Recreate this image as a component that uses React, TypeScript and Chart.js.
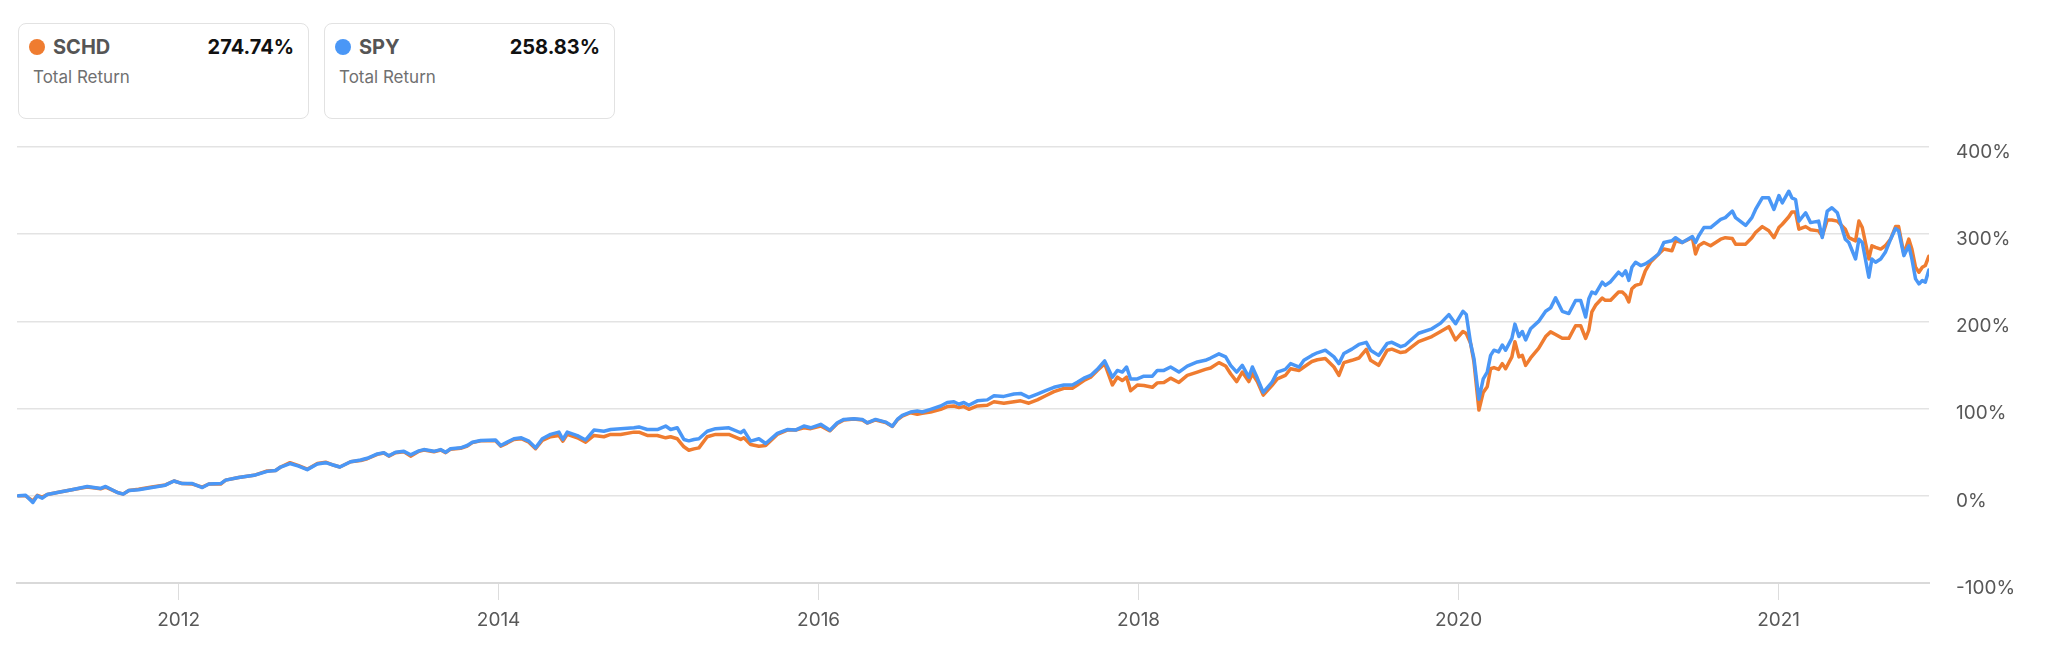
import { useEffect, useRef } from 'react'
import { Chart, registerables } from 'chart.js'

Chart.register(...registerables)

// Total return comparison, SCHD vs SPY. Dates are decimal years, values in %.
const dates = [
  2011.000, 2011.044, 2011.089, 2011.117, 2011.148, 2011.179, 2011.250, 2011.333, 2011.429, 2011.513,
  2011.544, 2011.617, 2011.654, 2011.689, 2011.750, 2011.833, 2011.917, 2011.971, 2012.023, 2012.086,
  2012.148, 2012.189, 2012.263, 2012.294, 2012.375, 2012.471, 2012.554, 2012.606, 2012.638, 2012.696,
  2012.750, 2012.804, 2012.867, 2012.919, 2012.971, 2013.008, 2013.075, 2013.138, 2013.179, 2013.242,
  2013.283, 2013.314, 2013.356, 2013.408, 2013.450, 2013.502, 2013.533, 2013.596, 2013.638, 2013.669,
  2013.700, 2013.763, 2013.804, 2013.836, 2013.888, 2013.981, 2014.013, 2014.054, 2014.096, 2014.142,
  2014.189, 2014.231, 2014.273, 2014.325, 2014.377, 2014.402, 2014.429, 2014.492, 2014.544, 2014.596,
  2014.658, 2014.700, 2014.763, 2014.846, 2014.877, 2014.929, 2014.992, 2015.044, 2015.075, 2015.117,
  2015.158, 2015.189, 2015.221, 2015.252, 2015.304, 2015.356, 2015.439, 2015.513, 2015.533, 2015.575,
  2015.627, 2015.669, 2015.742, 2015.804, 2015.856, 2015.908, 2015.950, 2016.013, 2016.071, 2016.117,
  2016.158, 2016.221, 2016.273, 2016.304, 2016.356, 2016.419, 2016.461, 2016.492, 2016.523, 2016.575,
  2016.617, 2016.648, 2016.700, 2016.763, 2016.804, 2016.846, 2016.877, 2016.908, 2016.939, 2016.992,
  2017.054, 2017.096, 2017.158, 2017.221, 2017.263, 2017.314, 2017.367, 2017.419, 2017.471, 2017.533,
  2017.586, 2017.617, 2017.658, 2017.700, 2017.742, 2017.788, 2017.836, 2017.867, 2017.898, 2017.925,
  2017.950, 2017.992, 2018.033, 2018.086, 2018.117, 2018.158, 2018.200, 2018.252, 2018.304, 2018.367,
  2018.417, 2018.450, 2018.502, 2018.544, 2018.575, 2018.613, 2018.648, 2018.689, 2018.711, 2018.742,
  2018.779, 2018.833, 2018.867, 2018.917, 2018.950, 2019.004, 2019.033, 2019.083, 2019.117, 2019.167,
  2019.221, 2019.252, 2019.283, 2019.333, 2019.377, 2019.423, 2019.450, 2019.500, 2019.554, 2019.583,
  2019.638, 2019.667, 2019.750, 2019.833, 2019.888, 2019.939, 2019.981, 2020.027, 2020.048, 2020.075,
  2020.096, 2020.127, 2020.154, 2020.179, 2020.200, 2020.221, 2020.250, 2020.273, 2020.294, 2020.333,
  2020.352, 2020.377, 2020.398, 2020.419, 2020.450, 2020.500, 2020.544, 2020.575, 2020.606, 2020.648,
  2020.689, 2020.731, 2020.763, 2020.794, 2020.814, 2020.833, 2020.856, 2020.898, 2020.917, 2020.950,
  2021.000, 2021.023, 2021.044, 2021.064, 2021.083, 2021.106, 2021.138, 2021.167, 2021.200, 2021.250,
  2021.283, 2021.333, 2021.356, 2021.398, 2021.417, 2021.461, 2021.481, 2021.500, 2021.533, 2021.575,
  2021.638, 2021.667, 2021.711, 2021.731, 2021.794, 2021.833, 2021.856, 2021.898, 2021.939, 2021.971,
  2022.002, 2022.023, 2022.064, 2022.083, 2022.106, 2022.127, 2022.169, 2022.200, 2022.250, 2022.273,
  2022.304, 2022.333, 2022.367, 2022.417, 2022.439, 2022.481, 2022.502, 2022.523, 2022.564, 2022.583,
  2022.606, 2022.638, 2022.667, 2022.700, 2022.731, 2022.750, 2022.783, 2022.814, 2022.833, 2022.856,
  2022.877, 2022.898, 2022.917, 2022.939,
]

const spyReturn = [
  0, 0.5, -7.6, 0, -2.7, 1.5, 4, 7, 10.7, 8.4,
  10.7, 3.8, 1.9, 6, 7, 9.5, 12.2, 17, 14, 14,
  9.5, 13.5, 14, 18, 21, 23.5, 28, 29, 33, 37,
  34, 30, 36.5, 38, 35, 33, 39, 41, 43, 48,
  49.5, 46, 50, 51, 47, 51.5, 53, 51, 53, 50,
  54, 55, 57.7, 61.5, 63.5, 64, 57.7, 61.5, 65.4, 66.5,
  62.7, 55, 65.4, 70.4, 73, 64.6, 73, 69, 64, 75.4,
  74, 76, 77, 78, 79, 76, 76, 80, 76, 78,
  64.6, 63, 64.6, 65.4, 74, 77, 78, 72.3, 75, 62.7,
  65.4, 60, 71.5, 76, 75.4, 80, 78, 82, 75.2, 83.7,
  87.6, 88.4, 87.6, 83.7, 87.6, 84.5, 79.8, 87.6, 92.2, 96.1,
  97.3, 96.1, 99.2, 103, 107, 107.8, 105, 107, 103.9, 108.9,
  110, 114.7, 114, 116.7, 117.4, 112.8, 116.7, 120.5, 124.4, 127.1,
  127.1, 130.2, 134.9, 138, 145, 154.7, 136, 143.8, 141.9, 147.7,
  134, 134, 137.2, 137.2, 143.8, 143.8, 147.7, 141.9, 148.8, 153.5,
  155.4, 158, 162.8, 159.3, 149.6, 141.9, 149.6, 136, 147.7, 135,
  118.6, 130, 141.9, 145, 151.6, 147.7, 155.4, 161, 164, 167,
  159.3, 151.6, 163.2, 168.2, 173.6, 176, 167, 161, 174.8, 176,
  171, 172.9, 186.4, 191.5, 198, 207.8, 197.3, 211.6, 208, 174.8,
  157.4, 110.8, 134, 141.9, 161, 167, 165, 172.9, 167, 180.6,
  196.9, 182.6, 188.4, 178.7, 191.5, 200, 211.6, 215.5, 227, 211.6,
  209, 224, 224, 205, 226, 233.7, 231.8, 245, 241.3, 245.5,
  256.4, 252.6, 258, 247, 262, 267.8, 264, 266, 270, 277.3,
  290.5, 292.4, 296, 290.5, 292.4, 297.3, 290.5, 298, 307.6, 307.6,
  317, 319, 326.5, 319, 310, 319, 328.4, 341.7, 341.7, 328.4,
  344.3, 336, 349.3, 341.7, 339.8, 315, 324.6, 313.3, 315, 296.2,
  326.5, 330.3, 324.6, 294.3, 290.5, 271.6, 294.3, 290.5, 250.7, 271.6,
  267.8, 271.6, 279.2, 294.3, 306.4, 303.8, 275.4, 286.7, 271.6, 248.8,
  243, 246.8, 245, 258.83,
]

const schdReturn = [
  0, 0, -6, 0.5, -1.5, 1.5, 4, 7, 10, 8,
  10, 4, 2, 6, 7.5, 10, 12.5, 17, 14, 13.5,
  10, 13.5, 13.5, 18, 21, 23.5, 28.5, 29, 33, 38,
  34.5, 30.5, 37, 38.5, 35, 33, 39, 40.5, 42.5, 47.5,
  49, 45.5, 49.5, 50.5, 45.5, 51, 52.5, 50.5, 52.5, 49.5,
  53.5, 54.5, 57, 61, 63, 63, 57, 60.5, 64.5, 65.5,
  61.5, 54, 63.5, 67.7, 69.2, 62.7, 70.4, 66.5, 61.5, 69.2,
  67.7, 70.4, 70.4, 73, 73, 69.2, 69.2, 66.5, 67.7, 65.4,
  56.2, 52.3, 53.8, 55, 67.7, 70.4, 70.4, 64.6, 66.5, 58.8,
  56.9, 57.7, 70.4, 75.4, 75.4, 78, 77, 80, 74.5, 83,
  87, 88, 87, 83.5, 87, 84, 79.5, 87, 91.5, 95.3,
  93.4, 94.5, 96.1, 99.2, 102.3, 103, 101.2, 102.3, 99.2, 103,
  103.9, 107.8, 106.2, 107.8, 108.9, 106.2, 110, 114.7, 119.4, 123.3,
  123.3, 127.1, 132.2, 136, 143.8, 151.6, 127.1, 136, 132.2, 136,
  120.5, 127, 126.4, 124.4, 129.5, 130, 134.9, 130, 138, 141.9,
  145, 146.5, 152.7, 148.8, 140, 131, 141.9, 131, 140, 131,
  115.5, 126.4, 134, 138, 145.7, 143.8, 147.7, 154, 156, 157.4,
  147.7, 138, 152.7, 155.4, 158, 168, 155.4, 149.6, 167, 168.2,
  164.3, 165.1, 176.7, 182.6, 188.4, 194, 178.7, 188.4, 186, 174.8,
  153.5, 98.4, 118.6, 125, 145.7, 147, 145, 151.6, 145.7, 159.3,
  176.7, 159.3, 161, 149.6, 158.1, 169, 182.6, 188, 185, 180.6,
  180.6, 195, 195, 180.6, 190, 211, 218.5, 226.8, 224.2, 224.2,
  233.7, 233.7, 229.9, 222.3, 237.5, 241.3, 243, 258, 268, 277.3,
  283, 281, 292.4, 290.5, 292.4, 296, 277.3, 286.7, 290.5, 286.7,
  294.3, 296, 295, 288.6, 288.6, 296, 301.9, 308.7, 304, 296,
  307.6, 311.4, 320, 325.4, 325.4, 305.7, 308.7, 305, 303.8, 298,
  316.3, 316.3, 315, 305.7, 296, 292.4, 315.2, 307.6, 271.6, 286.7,
  284.8, 282.9, 286.7, 294.3, 308.7, 308.7, 277.3, 294.3, 283, 262,
  256.4, 262, 264, 274.74,
]

// x-axis ticks as they appear on the source chart (last one is labelled 2021)
const tickYears = [2012, 2014, 2016, 2018, 2020, 2022]
const tickLabels = ['2012', '2014', '2016', '2018', '2020', '2021']

const yTicks = [-100, 0, 100, 200, 300, 400]

const SCHD_COLOR = '#ef7c30'
const SPY_COLOR = '#4a97f6'
const FONT = 'Inter, "Noto Sans", sans-serif'

const cards = [
  { name: 'SCHD', value: '274.74%', color: SCHD_COLOR },
  { name: 'SPY', value: '258.83%', color: SPY_COLOR },
]

function ReturnCard({ name, value, color, left }: { name: string; value: string; color: string; left: number }) {
  return (
    <div
      style={{
        position: 'absolute',
        left,
        top: 23,
        width: 291,
        height: 96,
        boxSizing: 'border-box',
        border: '1px solid #e2e2e2',
        borderRadius: 8,
        background: '#fff',
      }}
    >
      <span
        style={{
          position: 'absolute',
          left: 10,
          top: 15,
          width: 16,
          height: 16,
          borderRadius: '50%',
          background: color,
        }}
      />
      <span
        style={{
          position: 'absolute',
          left: 34,
          top: 10,
          fontSize: 20,
          lineHeight: '26px',
          fontWeight: 700,
          color: '#555',
        }}
      >
        {name}
      </span>
      <span
        style={{
          position: 'absolute',
          right: 14,
          top: 10,
          fontSize: 20,
          lineHeight: '26px',
          fontWeight: 700,
          color: '#111',
        }}
      >
        {value}
      </span>
      <span
        style={{
          position: 'absolute',
          left: 14,
          top: 42,
          fontSize: 17,
          lineHeight: '22px',
          color: '#707070',
        }}
      >
        Total Return
      </span>
    </div>
  )
}

export default function App() {
  const canvasRef = useRef<HTMLCanvasElement>(null)
  const chartRef = useRef<Chart | null>(null)

  useEffect(() => {
    if (!canvasRef.current) return
    if (chartRef.current) chartRef.current.destroy()

    const lineStyle = {
      borderWidth: 3.5,
      borderJoinStyle: 'round' as const,
      borderCapStyle: 'round' as const,
      pointRadius: 0,
      tension: 0,
    }

    chartRef.current = new Chart(canvasRef.current, {
      type: 'line',
      data: {
        datasets: [
          {
            label: 'SCHD',
            data: dates.map((d, i) => ({ x: d, y: schdReturn[i] })),
            borderColor: SCHD_COLOR,
            order: 1,
            ...lineStyle,
          },
          {
            label: 'SPY',
            data: dates.map((d, i) => ({ x: d, y: spyReturn[i] })),
            borderColor: SPY_COLOR,
            order: 0,
            ...lineStyle,
          },
        ],
      },
      options: {
        responsive: true,
        maintainAspectRatio: false,
        animation: false,
        events: [],
        layout: { padding: { top: 17, left: 17, right: 0, bottom: 0 } },
        plugins: {
          legend: { display: false },
          tooltip: { enabled: false },
        },
        scales: {
          x: {
            type: 'linear',
            min: 2010.99,
            max: 2022.94,
            afterBuildTicks: (scale: any) => {
              scale.ticks = tickYears.map(v => ({ value: v }))
            },
            afterFit: (scale: any) => {
              scale.height = 68
              scale.paddingLeft = 0
              scale.paddingRight = 0
            },
            grid: {
              drawOnChartArea: false,
              drawTicks: true,
              tickLength: 17,
              color: '#dddddd',
              lineWidth: 1,
            },
            border: { display: true, color: '#d9d9d9', width: 2 },
            ticks: {
              autoSkip: false,
              maxRotation: 0,
              padding: 9,
              color: '#585858',
              font: { family: FONT, size: 19 },
              callback: (v: any) => {
                const idx = tickYears.indexOf(Number(v))
                return idx >= 0 ? tickLabels[idx] : ''
              },
            },
          },
          y: {
            position: 'right',
            min: -100,
            max: 400,
            afterBuildTicks: (scale: any) => {
              scale.ticks = yTicks.map(v => ({ value: v }))
            },
            afterFit: (scale: any) => {
              scale.width = 119
              scale.paddingTop = 0
              scale.paddingBottom = 0
            },
            grid: {
              drawTicks: false,
              color: '#e3e3e3',
              lineWidth: 1.5,
            },
            border: { display: false },
            ticks: {
              padding: 27,
              labelOffset: 5,
              color: '#585858',
              font: { family: FONT, size: 19 },
              callback: (v: any) => `${v}%`,
            },
          },
        },
      },
    })

    return () => { chartRef.current?.destroy() }
  }, [])

  return (
    <div
      style={{
        position: 'absolute',
        left: 0,
        top: 0,
        width: 2048,
        height: 651,
        background: '#fff',
        fontFamily: FONT,
        overflow: 'hidden',
      }}
    >
      {cards.map((c, i) => (
        <ReturnCard key={c.name} {...c} left={18 + i * 306} />
      ))}

      <div style={{ position: 'absolute', left: 0, top: 130, width: 2048, height: 521 }}>
        <canvas ref={canvasRef} />
      </div>
    </div>
  )
}
